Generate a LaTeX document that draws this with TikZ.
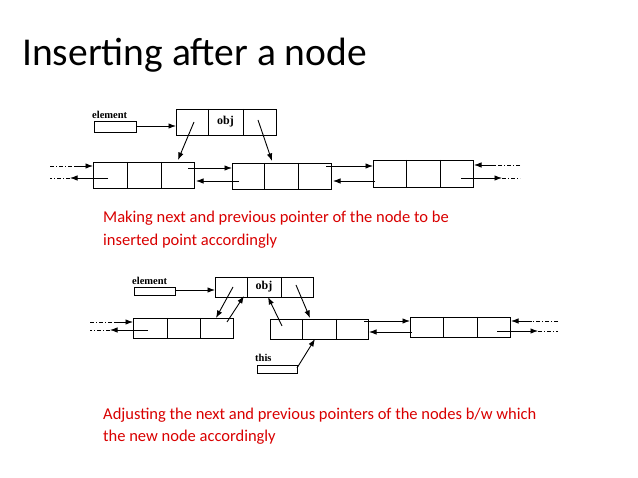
\documentclass[tikz,border=0pt]{standalone}
\usepackage{fontspec}
\setmainfont{Carlito}
\newfontfamily\lblfont{Liberation Serif}
\usetikzlibrary{arrows.meta}
\begin{document}
\begin{tikzpicture}[x=1pt,y=-1pt,
  cell/.style={draw,line width=0.9pt},
  ptr/.style={-{Latex[length=7.5pt,width=5.5pt]},line width=0.9pt},
  dd/.style={dash pattern=on 4pt off 2pt on 1pt off 2pt,line width=0.9pt},
  lbl/.style={font=\lblfont\bfseries\fontsize{10.5}{10.5}\selectfont,inner sep=0pt},
  red/.style={text=red!85!black,font=\fontsize{16.5}{20}\selectfont,anchor=base west,inner sep=0pt}]
\useasboundingbox (0,0) rectangle (638,478);
\fill[white] (0,0) rectangle (638,478);
\newcommand\llbox[7]{% name x1 y1 x2 y2 s1 s2
  \draw[cell] (#2,#3) rectangle (#4,#5);
  \draw[cell] (#6,#3) -- (#6,#5) (#7,#3) -- (#7,#5);
  \coordinate (#1) at ({(#2+#4)/2},{(#3+#5)/2});}
\node[anchor=base west,inner sep=0pt,font=\fontsize{39.5}{44}\selectfont] (title) at (22,66) {Inserting after a node};
% ---- top diagram
\node[lbl,anchor=base west] (el1) at (92,119) {element};
\draw[cell] (94,121) rectangle (136,132);
\llbox{obj1}{176}{109}{276}{135}{208}{243}
\node[font=\lblfont\bfseries\fontsize{12}{12}\selectfont] (objt1) at (225.5,122) {obj};
\draw[ptr] (136,126) -- (176,126);
\draw[ptr] (194,122) -- (178,160);
\draw[ptr] (258,120) -- (272,161);
\llbox{A1}{93}{162}{194}{188}{127}{161}
\llbox{B1}{232}{163}{331}{189}{264}{298}
\llbox{C1}{373}{160}{473}{187}{406}{440}
\draw[dd] (50,166) -- (75,166); \draw[ptr] (75,166) -- (93,166);
\draw[ptr] (108,178) -- (70,178); \draw[dd] (70,178) -- (50,178);
\draw[ptr] (188,168) -- (232,168);
\draw[ptr] (239,181) -- (196,181);
\draw[ptr] (326,166) -- (373,166);
\draw[ptr] (375,181) -- (333,181);
\draw[dd] (520,165) -- (495,165); \draw[ptr] (495,165) -- (474,165);
\draw[ptr] (461,178) -- (502,178); \draw[dd] (502,178) -- (520,178);
\node[red] (t1) at (103,223) {Making next and previous pointer of the node to be};
\node[red] (t2) at (103,246) {inserted point accordingly};
% ---- bottom diagram
\node[lbl,anchor=base west] (el2) at (132,285) {element};
\draw[cell] (134,287) rectangle (175,295);
\llbox{obj2}{215}{277}{313}{297}{247}{281}
\node[font=\lblfont\bfseries\fontsize{12}{12}\selectfont] (objt2) at (264,287) {obj};
\draw[ptr] (175,290) -- (215,290);
\llbox{A2}{133}{318}{233}{338}{167}{200}
\llbox{B2}{270}{319}{368}{339}{302}{336}
\llbox{C2}{410}{317}{510}{337}{443}{477}
\draw[ptr] (233,287) -- (216,318);
\draw[ptr] (227,322) -- (244,296);
\draw[ptr] (282,326) -- (268,297);
\draw[ptr] (296,285) -- (310,318);
\node[lbl,anchor=base west] (th) at (255,362) {this};
\draw[cell] (257,365) rectangle (297,373);
\draw[ptr] (297,368) -- (315,339);
\draw[ptr] (364,321) -- (410,321);
\draw[ptr] (412,332) -- (369,332);
\draw[dd] (90,322) -- (115,322); \draw[ptr] (115,322) -- (133,322);
\draw[ptr] (148,330) -- (110,330); \draw[dd] (110,330) -- (90,330);
\draw[dd] (558,321) -- (532,321); \draw[ptr] (532,321) -- (511,321);
\draw[ptr] (497,331) -- (538,331); \draw[dd] (538,331) -- (558,331);
\node[red] (t3) at (103,420) {Adjusting the next and previous pointers of the nodes b/w which};
\node[red] (t4) at (103,442) {the new node accordingly};
\end{tikzpicture}
\end{document}
